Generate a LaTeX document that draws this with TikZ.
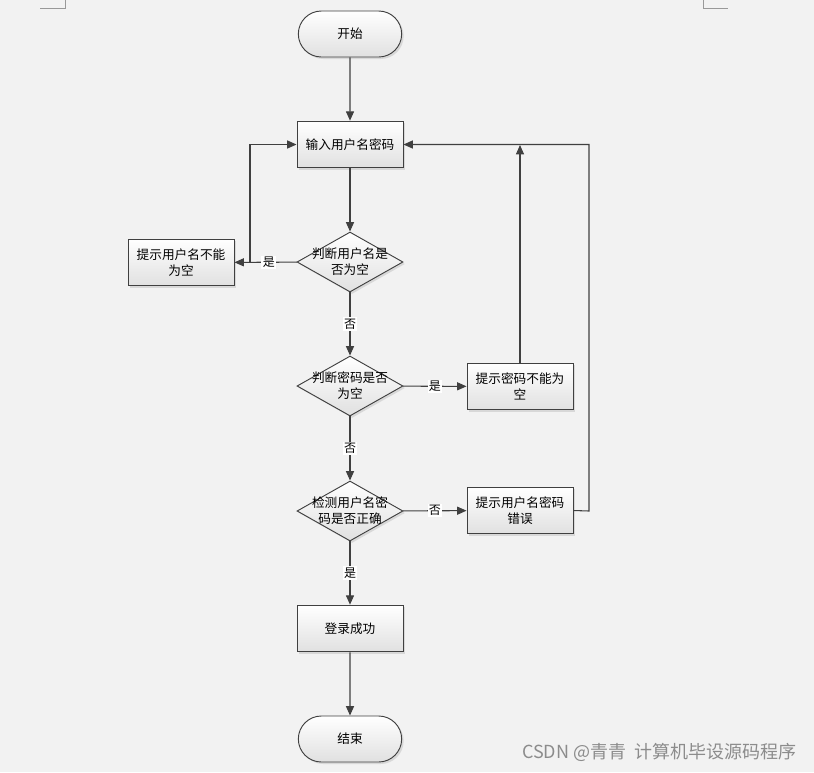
\documentclass[tikz,border=0pt]{standalone}
\usepackage{fontspec}
\setmainfont{Noto Sans CJK SC}
\usetikzlibrary{shapes.geometric,shapes.misc,arrows.meta,shadows}
\begin{document}
\begin{tikzpicture}[x=0.75pt,y=-0.75pt,
  base/.style={draw=black!75,line width=0.7pt,top color=white,bottom color=black!12,
    drop shadow={shadow xshift=1.5pt,shadow yshift=-1.5pt,fill=black!25},
    font=\fontsize{9.5}{12}\selectfont,align=center,inner sep=1pt},
  term/.style={base,rounded rectangle,minimum width=79.5pt,minimum height=34.5pt},
  proc/.style={base,rectangle,minimum width=79.5pt,minimum height=35pt,text width=74pt},
  dec/.style={base,diamond,aspect=1.77,minimum width=79.5pt,minimum height=45pt,inner sep=0pt},
  dtext/.style={font=\fontsize{9.5}{12}\selectfont,align=center,inner sep=0pt},
  conn/.style={draw=black!75,line width=0.8pt,-{Triangle[length=7pt,width=6pt]}},
  lab/.style={fill=white,font=\fontsize{9}{10}\selectfont,inner sep=1pt}]
\fill[black!5] (0,0) rectangle (814,772);
\useasboundingbox (0,0) rectangle (814,772);
\draw[black!40] (40,8) -- (65,8) -- (65,0) (703,0) -- (703,8) -- (728,8);
\node[term] (start) at (350,34) {开始};
\node[proc] (in) at (350,144.5) {输入用户名密码};
\node[dec] (d1) at (350,262) {};
\node[dtext] (d1t) at (d1) {判断用户名是\\否为空};
\node[proc] (e1) at (181,262.5) {提示用户名不能\\为空};
\node[dec] (d2) at (350,386) {};
\node[dtext] (d2t) at (d2) {判断密码是否\\为空};
\node[proc] (e2) at (520,386.5) {提示密码不能为\\空};
\node[dec] (d3) at (350,511) {};
\node[dtext] (d3t) at (d3) {检测用户名密\\码是否正确};
\node[proc] (e3) at (520,510.5) {提示用户名密码\\错误};
\node[proc] (ok) at (350,628.5) {登录成功};
\node[term] (end) at (350,739) {结束};
\coordinate (j1) at (250,262);
\coordinate (up) at (520,145);
\coordinate (r) at (589,511);
\draw[conn] (start) -- (in);
\draw[conn] (in) -- (d1);
\draw[conn] (d1) -- node[lab,pos=0.45]{是} (e1);
\draw[conn] (j1) |- (in.west);
\draw[conn] (d1) -- node[lab]{否} (d2);
\draw[conn] (d2) -- node[lab]{是} (e2);
\draw[conn] (e2) -- (up);
\draw[conn] (d2) -- node[lab]{否} (d3);
\draw[conn] (d3) -- node[lab]{否} (e3);
\draw[conn] (e3.east) -- (r) |- (in.east);
\draw[conn] (d3) -- node[lab]{是} (ok);
\draw[conn] (ok) -- (end);
\node[font=\fontsize{13.5}{15}\selectfont,text=black!45,anchor=east] (wm) at (801,752) {CSDN @青青\ \ 计算机毕设源码程序};
\end{tikzpicture}
\end{document}
